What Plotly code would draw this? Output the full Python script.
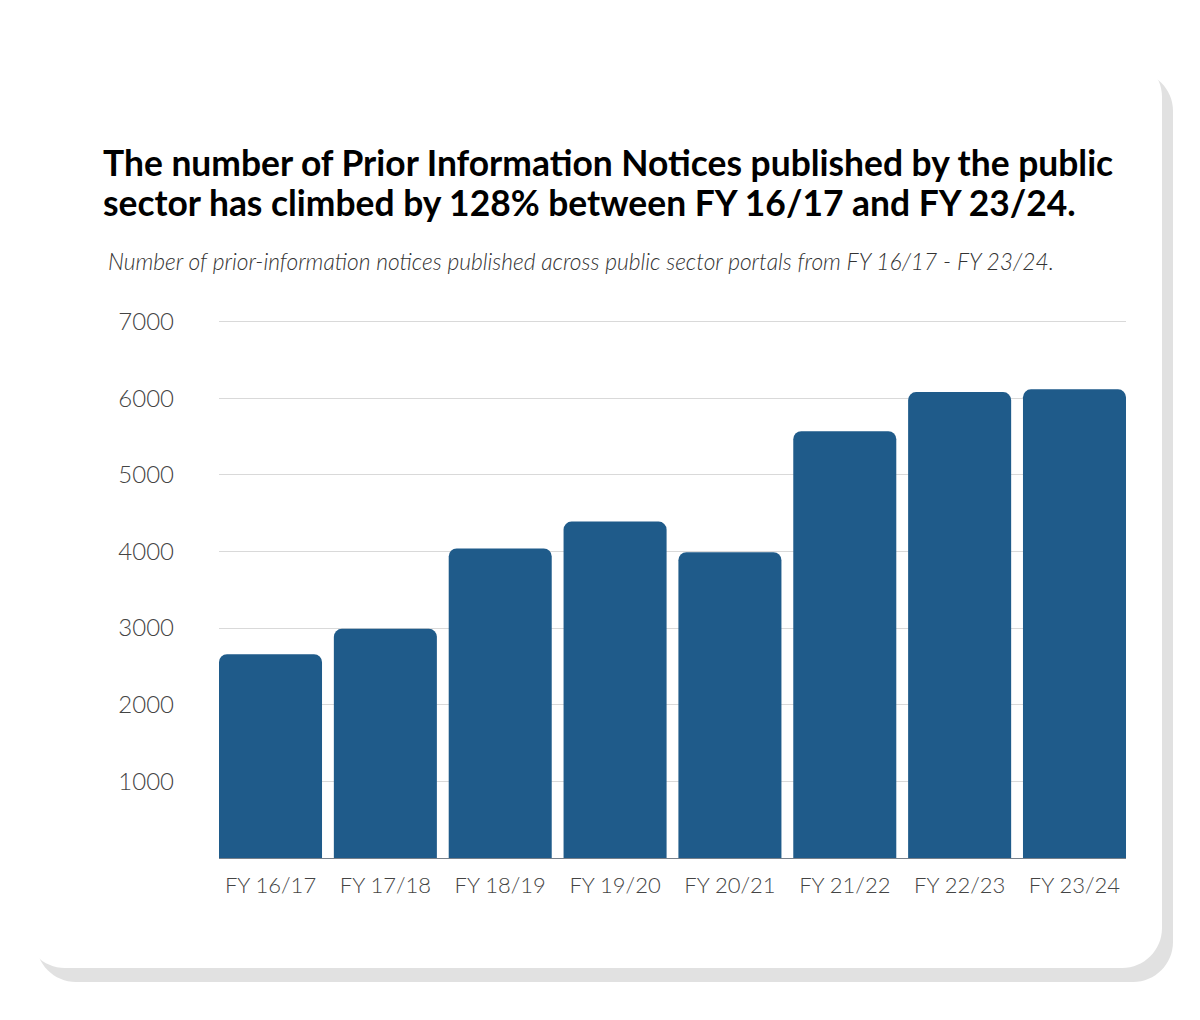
import plotly.graph_objects as go

# ---------------- data ----------------
categories = ["FY 16/17", "FY 17/18", "FY 18/19", "FY 19/20",
              "FY 20/21", "FY 21/22", "FY 22/23", "FY 23/24"]
notices = [2660, 2990, 4040, 4390, 3990, 5570, 6080, 6115]
y_tick_values = [1000, 2000, 3000, 4000, 5000, 6000, 7000]
y_tick_labels = ["1000", "2000", "3000", "4000", "5000", "6000", "7000"]

title_line_1 = "The number of Prior Information Notices published by the public"
title_line_2 = "sector has climbed by 128% between FY 16/17 and FY 23/24."
subtitle = ("Number of prior-information notices published across public sector "
            "portals from FY 16/17 - FY 23/24.")

# ---------------- layout geometry ----------------
OFF = 8                      # page body margin offset
W, H = 1200 - OFF, 1020 - OFF
ML, MR, MT, MB = 211, 74, 312, 162
PW = W - ML - MR
PH = H - MT - MB


def px(x):
    return (x - OFF - ML) / PW


def py(y):
    return (H - MB - (y - OFF)) / PH


def rrect(x0, y0, x1, y1, r):
    k = 0.5523 * r
    P = lambda x, y: f"{px(x):.5f},{py(y):.5f}"
    return (f"M {P(x0 + r, y0)} L {P(x1 - r, y0)} "
            f"C {P(x1 - r + k, y0)} {P(x1, y0 + r - k)} {P(x1, y0 + r)} "
            f"L {P(x1, y1 - r)} "
            f"C {P(x1, y1 - r + k)} {P(x1 - r + k, y1)} {P(x1 - r, y1)} "
            f"L {P(x0 + r, y1)} "
            f"C {P(x0 + r - k, y1)} {P(x0, y1 - r + k)} {P(x0, y1 - r)} "
            f"L {P(x0, y0 + r)} "
            f"C {P(x0, y0 + r - k)} {P(x0 + r - k, y0)} {P(x0 + r, y0)} Z")


bar_color = "#1f5b8a"
bargap = 0.103
half = (1 - bargap) / 2

fig = go.Figure(
    go.Bar(
        x=categories,
        y=notices,
        marker=dict(color=bar_color, cornerradius=8, line=dict(width=0)),
        hoverinfo="x+y",
    )
)

fig.update_layout(
    width=W,
    height=H,
    margin=dict(l=ML, r=MR, t=MT, b=MB, pad=0),
    paper_bgcolor="white",
    plot_bgcolor="rgba(0,0,0,0)",
    bargap=bargap,
    showlegend=False,
    font=dict(family="Lato", color="#555555"),
    shapes=[
        dict(type="path", xref="paper", yref="paper", layer="below",
             path=rrect(36, 71, 1173, 982, 40),
             fillcolor="#e1e1e1", line=dict(width=0)),
        dict(type="path", xref="paper", yref="paper", layer="below",
             path=rrect(25, 57, 1162, 968, 40),
             fillcolor="white", line=dict(width=0)),
    ],
    annotations=[
        dict(text=title_line_1, xref="paper", yref="paper",
             x=px(101), y=py(162), xanchor="left", yanchor="middle",
             showarrow=False,
             font=dict(family="Lato", size=35.4, weight=700, color="#000000")),
        dict(text=title_line_2, xref="paper", yref="paper",
             x=px(101), y=py(202), xanchor="left", yanchor="middle",
             showarrow=False,
             font=dict(family="Lato", size=35.4, weight=700, color="#000000")),
        dict(text=subtitle, xref="paper", yref="paper",
             x=px(106), y=py(261), xanchor="left", yanchor="middle",
             showarrow=False,
             font=dict(family="Lato", size=22.8, weight=300, style="italic",
                       color="#333333")),
    ],
)

fig.update_xaxes(
    range=[-half, len(categories) - 1 + half],
    showgrid=False,
    showline=True,
    linecolor="#77808a",
    linewidth=1,
    ticks="",
    ticklabelstandoff=8,
    tickfont=dict(family="Lato", size=22, weight=300, color="#444444"),
    fixedrange=True,
)

fig.update_yaxes(
    range=[0, 7020],
    tickvals=y_tick_values,
    ticktext=y_tick_labels,
    showgrid=True,
    gridcolor="#d9d9d9",
    gridwidth=1,
    zeroline=False,
    showline=False,
    ticks="",
    ticklabelstandoff=44,
    tickfont=dict(family="Lato", size=24, weight=300, color="#444444"),
    fixedrange=True,
)

fig.write_html("out.html")
